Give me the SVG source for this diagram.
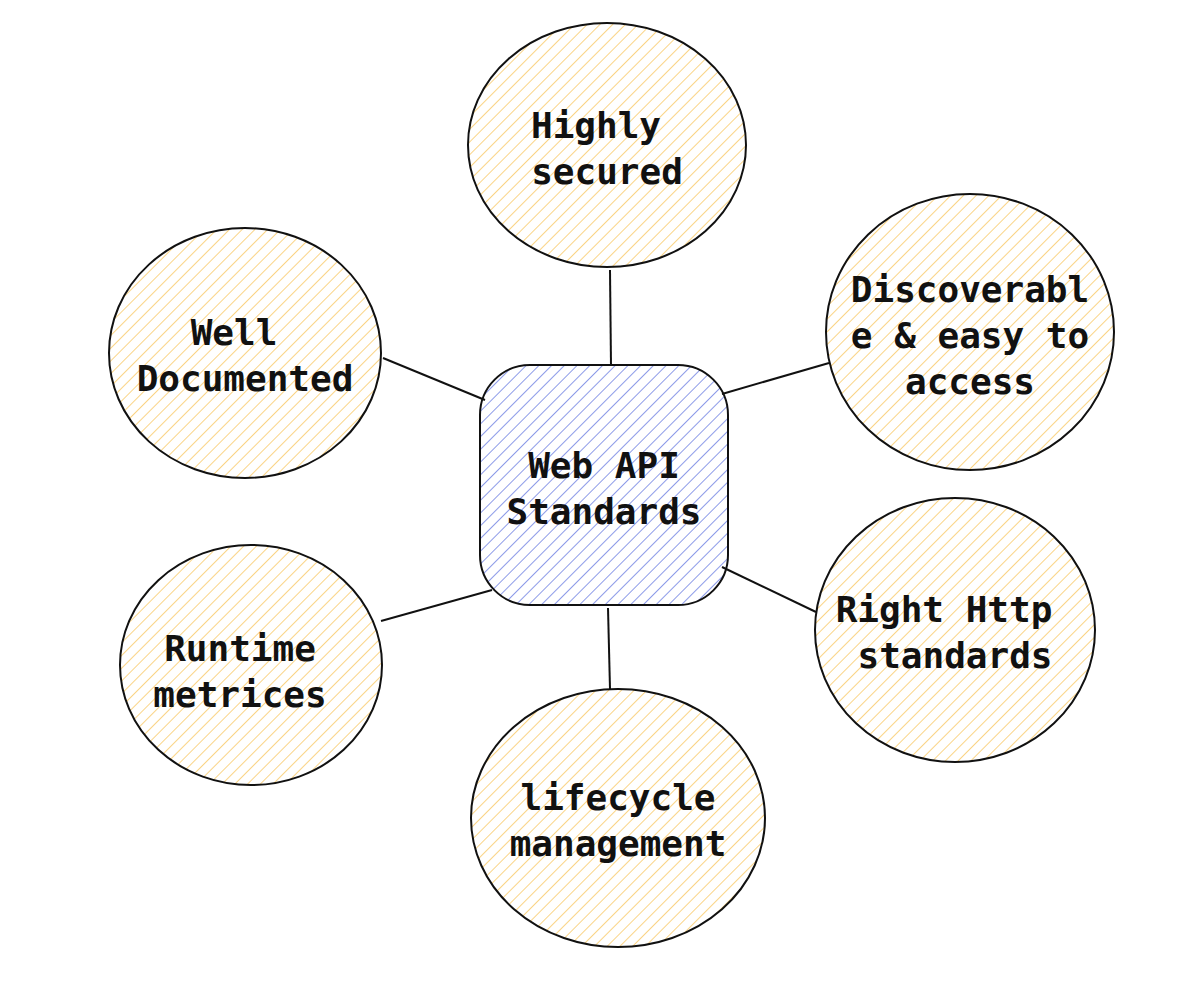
<svg xmlns="http://www.w3.org/2000/svg" width="1200" height="984" viewBox="0 0 1200 984">
<defs>
<pattern id="ho" width="9" height="9" patternUnits="userSpaceOnUse" patternTransform="rotate(45)"><line x1="0" y1="0" x2="0" y2="9" stroke="#f7b733" stroke-width="1.2"/></pattern>
<pattern id="hb" width="9" height="9" patternUnits="userSpaceOnUse" patternTransform="rotate(45)"><line x1="0" y1="0" x2="0" y2="9" stroke="#4056d8" stroke-width="1.2"/></pattern>
</defs>
<style>
.n{fill:url(#ho);stroke:#111;stroke-width:2}
.c{fill:url(#hb);stroke:#111;stroke-width:2}
text{font-family:"DejaVu Sans Mono","Liberation Mono",monospace;font-weight:bold;font-size:36px;fill:#111;text-anchor:middle}
.e line{stroke:#111;stroke-width:2}
</style>
<rect width="1200" height="984" fill="#fff"/>
<g class="e" id="connectors">
<line x1="610" y1="270" x2="611" y2="366"/>
<line x1="383" y1="358" x2="485" y2="400"/>
<line x1="722" y1="394" x2="829" y2="363"/>
<line x1="722" y1="567" x2="816" y2="612"/>
<line x1="381" y1="621" x2="492" y2="590"/>
<line x1="608" y1="608" x2="610" y2="689"/>
</g>
<g id="center"><rect class="c" x="480" y="365" width="248" height="240" rx="50"/><text x="604" y="478">Web API</text><text x="604" y="524">Standards</text></g>
<g id="n1"><ellipse class="n" cx="607" cy="145" rx="139" ry="122"/><text x="596" y="138">Highly</text><text x="607" y="184">secured</text></g>
<g id="n2"><ellipse class="n" cx="245" cy="353" rx="136" ry="125"/><text x="234" y="345">Well</text><text x="245" y="391">Documented</text></g>
<g id="n3"><ellipse class="n" cx="970" cy="332" rx="144" ry="138"/><text x="970" y="302">Discoverabl</text><text x="970" y="348">e &amp; easy to</text><text x="970" y="394">access</text></g>
<g id="n4"><ellipse class="n" cx="955" cy="630" rx="140" ry="132"/><text x="944" y="622">Right Http</text><text x="955" y="668">standards</text></g>
<g id="n5"><ellipse class="n" cx="251" cy="665" rx="131" ry="120"/><text x="240" y="661">Runtime</text><text x="240" y="707">metrices</text></g>
<g id="n6"><ellipse class="n" cx="618" cy="818" rx="147" ry="129"/><text x="618" y="810">lifecycle</text><text x="618" y="856">management</text></g>
</svg>
